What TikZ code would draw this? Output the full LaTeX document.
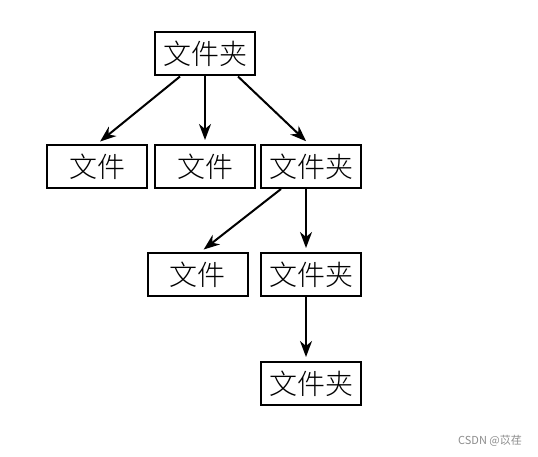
\documentclass[tikz,border=0pt]{standalone}
\usepackage{fontspec}
\newfontfamily\cjk{Noto Sans CJK SC Light}
\newfontfamily\cjkwm{Noto Sans CJK SC}
\usetikzlibrary{arrows.meta,calc}
\begin{document}
\begin{tikzpicture}[x=1pt,y=-1pt,
  box/.style={draw,line width=2pt,minimum width=100pt,minimum height=43pt,inner sep=0pt,font=\cjk\fontsize{28}{28}\selectfont},
  arr/.style={line width=2pt,-{Stealth[length=16pt,width=12pt,inset=5pt]},shorten >=4pt}]
\useasboundingbox (0,0) rectangle (538,457);
\node[box] (root) at (205,54) {文件夹};
\node[box] (f1) at (97,166.5) {文件};
\node[box] (f2) at (205,166.5) {文件};
\node[box] (d1) at (311,166.5) {文件夹};
\node[box] (f3) at (197.5,274.5) {文件};
\node[box] (d2) at (311,274.5) {文件夹};
\node[box] (d3) at (311,383.5) {文件夹};
\draw[arr] ($(root.south)+(-25,0)$) -- (f1.north);
\draw[arr] (root.south) -- (f2.north);
\draw[arr] ($(root.south)+(33,0)$) -- ($(d1.north)+(-2,0)$);
\draw[arr] ($(d1.south)+(-30,0)$) -- ($(f3.north)+(3,0)$);
\draw[arr] ($(d1.south)+(-5,0)$) -- ($(d2.north)+(-5,0)$);
\draw[arr] ($(d2.south)+(-5,0)$) -- ($(d3.north)+(-5,0)$);
\node[font=\cjkwm\fontsize{11}{11}\selectfont,text=black!45] (wm) at (490,441) {CSDN @苡荏};
\end{tikzpicture}
\end{document}
